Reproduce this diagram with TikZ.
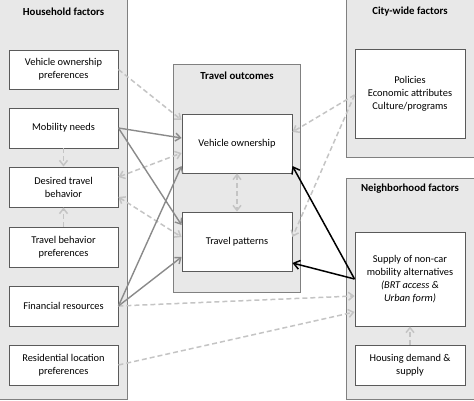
\documentclass[tikz,border=0pt]{standalone}
\usepackage{fontspec}
\setmainfont{Carlito}
\usetikzlibrary{arrows.meta}
\definecolor{panelfill}{HTML}{E8E8E8}
\definecolor{panelline}{HTML}{808080}
\definecolor{boxline}{HTML}{5A5A5A}
\definecolor{solidgray}{HTML}{8A8A8A}
\definecolor{dashgray}{HTML}{C4C4C4}
\tikzset{
  panel/.style={draw=panelline, fill=panelfill, line width=0.9pt, inner sep=0pt},
  fbox/.style={draw=boxline, fill=white, line width=0.9pt, align=center, inner sep=2pt,
     minimum width=109pt, font=\fontsize{10.4}{13}\selectfont},
  ptitle/.style={font=\fontsize{10.8}{12}\selectfont\bfseries},
  solidarr/.style={draw=solidgray, line width=1.4pt, -{Straight Barb[length=5pt,width=8pt]}},
  dasharr/.style={draw=dashgray, line width=1.5pt, dash pattern=on 5pt off 3pt, -{Straight Barb[length=5pt,width=8pt]}},
  dashboth/.style={dasharr, {Straight Barb[length=5pt,width=8pt]}-{Straight Barb[length=5pt,width=8pt]}},
  blackarr/.style={draw=black, line width=1.5pt, -{Straight Barb[length=6pt,width=9pt]}},
}
\begin{document}
\begin{tikzpicture}[x=1pt,y=-1pt]
\useasboundingbox (0,0) rectangle (474,401);
\begin{scope}
\clip (0,0) rectangle (474,401);
% panels
\draw[panel] (-2,-5) rectangle (127,399.5);
\draw[panel] (173,64) rectangle (300.5,292);
\draw[panel] (346,-5) rectangle (480,157);
\draw[panel] (346,178) rectangle (480,399.5);
\end{scope}
\node[ptitle] (hht) at (63.5,12) {Household factors};
\node[ptitle] (tot) at (237,76) {Travel outcomes};
\node[ptitle] (cwt) at (410,12) {City-wide factors};
\node[ptitle] (nbt) at (410,189) {Neighborhood factors};
% household boxes
\node[fbox, minimum height=39pt] (vop) at (63.5,69.5) {Vehicle ownership\\preferences};
\node[fbox, minimum height=40pt] (mn) at (63.5,128) {Mobility needs};
\node[fbox, minimum height=40pt] (dtb) at (63.5,187) {Desired travel\\behavior};
\node[fbox, minimum height=40pt] (tbp) at (63.5,247) {Travel behavior\\preferences};
\node[fbox, minimum height=40pt] (fr) at (63.5,306) {Financial resources};
\node[fbox, minimum height=40pt] (rlp) at (63.5,365) {Residential location\\preferences};
% outcomes
\node[fbox, minimum width=110pt, minimum height=59pt] (vo) at (237,143.5) {Vehicle ownership};
\node[fbox, minimum width=110pt, minimum height=59pt] (tp) at (237,241.5) {Travel patterns};
% city / neighborhood
\node[fbox, minimum width=110pt, minimum height=89pt] (pol) at (410,93.5) {Policies\\Economic attributes\\Culture/programs};
\node[fbox, minimum width=110pt, minimum height=94pt] (sup) at (410,279) {Supply of non-car\\mobility alternatives\\\textit{(BRT access \&}\\\textit{Urban form)}};
\node[fbox, minimum width=110pt, minimum height=40pt] (hds) at (410,365) {Housing demand \&\\supply};
% dashed connectors
\draw[dasharr] (vop.east) -- ([yshift=23.5pt]vo.west);
\draw[dashboth] ([yshift=10pt]dtb.east) -- ([yshift=-9.5pt]vo.west);
\draw[dashboth] ([yshift=-10pt]dtb.east) -- ([yshift=4.5pt]tp.west);
\draw[dasharr] (mn.south) -- (dtb.north);
\draw[dasharr] (tbp.north) -- (dtb.south);
\draw[dashboth] (vo.south) -- (tp.north);
\draw[dasharr] ([yshift=-1.5pt]pol.west) -- ([yshift=11.5pt]vo.east);
\draw[dasharr] ([yshift=-1.5pt]pol.west) -- ([yshift=4.5pt]tp.east);
\draw[dasharr] (fr.east) -- ([yshift=-17pt]sup.west);
\draw[dasharr] (rlp.east) -- ([yshift=-33pt]sup.west);
\draw[dasharr] (hds.north) -- (sup.south);
% solid gray connectors
\draw[solidarr] (mn.east) -- ([yshift=5.5pt]vo.west);
\draw[solidarr] (mn.east) -- ([yshift=16.5pt]tp.west);
\draw[solidarr] (fr.east) -- ([yshift=-22.5pt]vo.west);
\draw[solidarr] (fr.east) -- ([yshift=-15.5pt]tp.west);
% black connectors
\draw[blackarr] (sup.west) -- ([yshift=-22.5pt]vo.east);
\draw[blackarr] (sup.west) -- ([yshift=-21.5pt]tp.east);
\end{tikzpicture}
\end{document}
